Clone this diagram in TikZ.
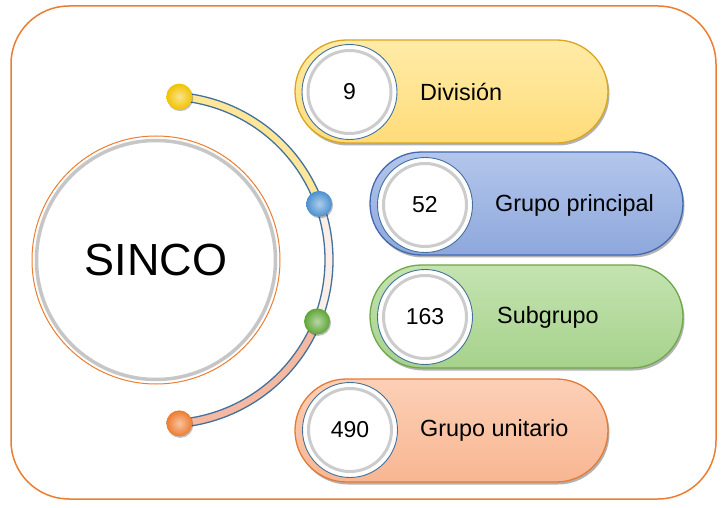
\documentclass[tikz,border=0pt]{standalone}
\usepackage{fontspec}
\setmainfont{Liberation Sans}
\usetikzlibrary{shapes.misc,shadows,calc}
\definecolor{frameor}{HTML}{ED7D31}
\definecolor{ringblue}{HTML}{41719C}
\definecolor{yelT}{HTML}{FFEBA8}
\definecolor{yelB}{HTML}{FFDC7A}
\definecolor{yelD}{HTML}{D9A520}
\definecolor{bluT}{HTML}{B3C6EC}
\definecolor{bluB}{HTML}{8EA8DC}
\definecolor{bluD}{HTML}{4468B0}
\definecolor{grnT}{HTML}{C4E3B0}
\definecolor{grnB}{HTML}{A6D28C}
\definecolor{grnD}{HTML}{6FA84A}
\definecolor{orT}{HTML}{FCD0B6}
\definecolor{orB}{HTML}{F8B692}
\definecolor{orD}{HTML}{E37A35}
\definecolor{bandY}{HTML}{FFE699}
\definecolor{bandM}{HTML}{FBEEE8}
\definecolor{bandS}{HTML}{F4B9A0}
\definecolor{ballY}{HTML}{F2C200}
\definecolor{ballB}{HTML}{4A90D0}
\definecolor{ballG}{HTML}{5FA536}
\definecolor{ballO}{HTML}{EE7A2E}
\begin{document}
\begin{tikzpicture}[x=1pt,y=-1pt,
  pill/.style={rounded rectangle, minimum width=313pt, minimum height=103pt,
    inner sep=0pt, line width=1.3pt,
    drop shadow={shadow xshift=1.5pt, shadow yshift=-2.5pt, opacity=0.3, fill=black}},
  numc/.style={circle, minimum size=95pt, inner sep=0pt, fill=white,
    draw=ringblue, line width=0.9pt, font=\fontsize{23}{28}\selectfont},
  ring/.style={draw=gray!40, line width=3pt},
  lbl/.style={anchor=west, inner sep=0pt, font=\fontsize{23.4}{28}\selectfont},
  ball/.style={circle, minimum size=26pt, inner sep=0pt, shading=radial,
    inner color=#1!45!white, outer color=#1,
    drop shadow={shadow xshift=1pt, shadow yshift=-1.5pt, opacity=0.25, fill=black}},
  bandline/.style={draw=ringblue, line width=1.3pt}]
\useasboundingbox (0,0) rectangle (724,508);
% frame
\draw[frameor, line width=1.5pt, rounded corners=58pt] (11,6) rectangle (716,499);
% arc band
\coordinate (c) at (165,260);
\fill[bandY] ($(c)+(-85:168)$) arc[start angle=-85, end angle=-20, radius=168]
  -- ($(c)+(-20:160)$) arc[start angle=-20, end angle=-85, radius=160] -- cycle;
\fill[bandM] ($(c)+(-20:168)$) arc[start angle=-20, end angle=22, radius=168]
  -- ($(c)+(22:160)$) arc[start angle=22, end angle=-20, radius=160] -- cycle;
\fill[bandS] ($(c)+(22:168)$) arc[start angle=22, end angle=85, radius=168]
  -- ($(c)+(85:160)$) arc[start angle=85, end angle=22, radius=160] -- cycle;
\draw[bandline] ($(c)+(-85:168)$) arc[start angle=-85, end angle=85, radius=168];
\draw[bandline] ($(c)+(-85:160)$) arc[start angle=-85, end angle=85, radius=160];
% SINCO circle
\node[circle, minimum size=248pt, inner sep=0pt, fill=white, draw=frameor,
  line width=1pt, font=\fontsize{45}{54}\selectfont] (s) at (156,260) {SINCO};
\draw[gray!45, line width=3.5pt] (s.center) circle (119.5);
% balls
\node[ball=ballY] (b1) at ($(c)+(-85:164)$) {};
\node[ball=ballB] (b2) at ($(c)+(-20:164)$) {};
\node[ball=ballG] (b3) at ($(c)+(22:164)$) {};
\node[ball=ballO] (b4) at ($(c)+(85:164)$) {};
% pills
\node[pill, draw=yelD, top color=yelT, bottom color=yelB] (p1) at (451.5,91.5) {};
\node[pill, draw=bluD, top color=bluT, bottom color=bluB] (p2) at (526.5,203.5) {};
\node[pill, draw=grnD, top color=grnT, bottom color=grnB] (p3) at (526.5,316.5) {};
\node[pill, draw=orD, top color=orT, bottom color=orB] (p4) at (451.5,430.5) {};
% number circles
\node[numc] (n1) at (349.5,92) {9};
\draw[ring] (n1.center) circle (41.5);
\node[numc] (n2) at (425,205) {52};
\draw[ring] (n2.center) circle (41.5);
\node[numc] (n3) at (425,317) {163};
\draw[ring] (n3.center) circle (41.5);
\node[numc] (n4) at (350,430) {490};
\draw[ring] (n4.center) circle (41.5);
% labels
\node[lbl] (l1) at (420,92) {División};
\node[lbl] (l2) at (495,205) {Grupo principal};
\node[lbl] (l3) at (497,317) {Subgrupo};
\node[lbl] (l4) at (420,430) {Grupo unitario};
\end{tikzpicture}
\end{document}
